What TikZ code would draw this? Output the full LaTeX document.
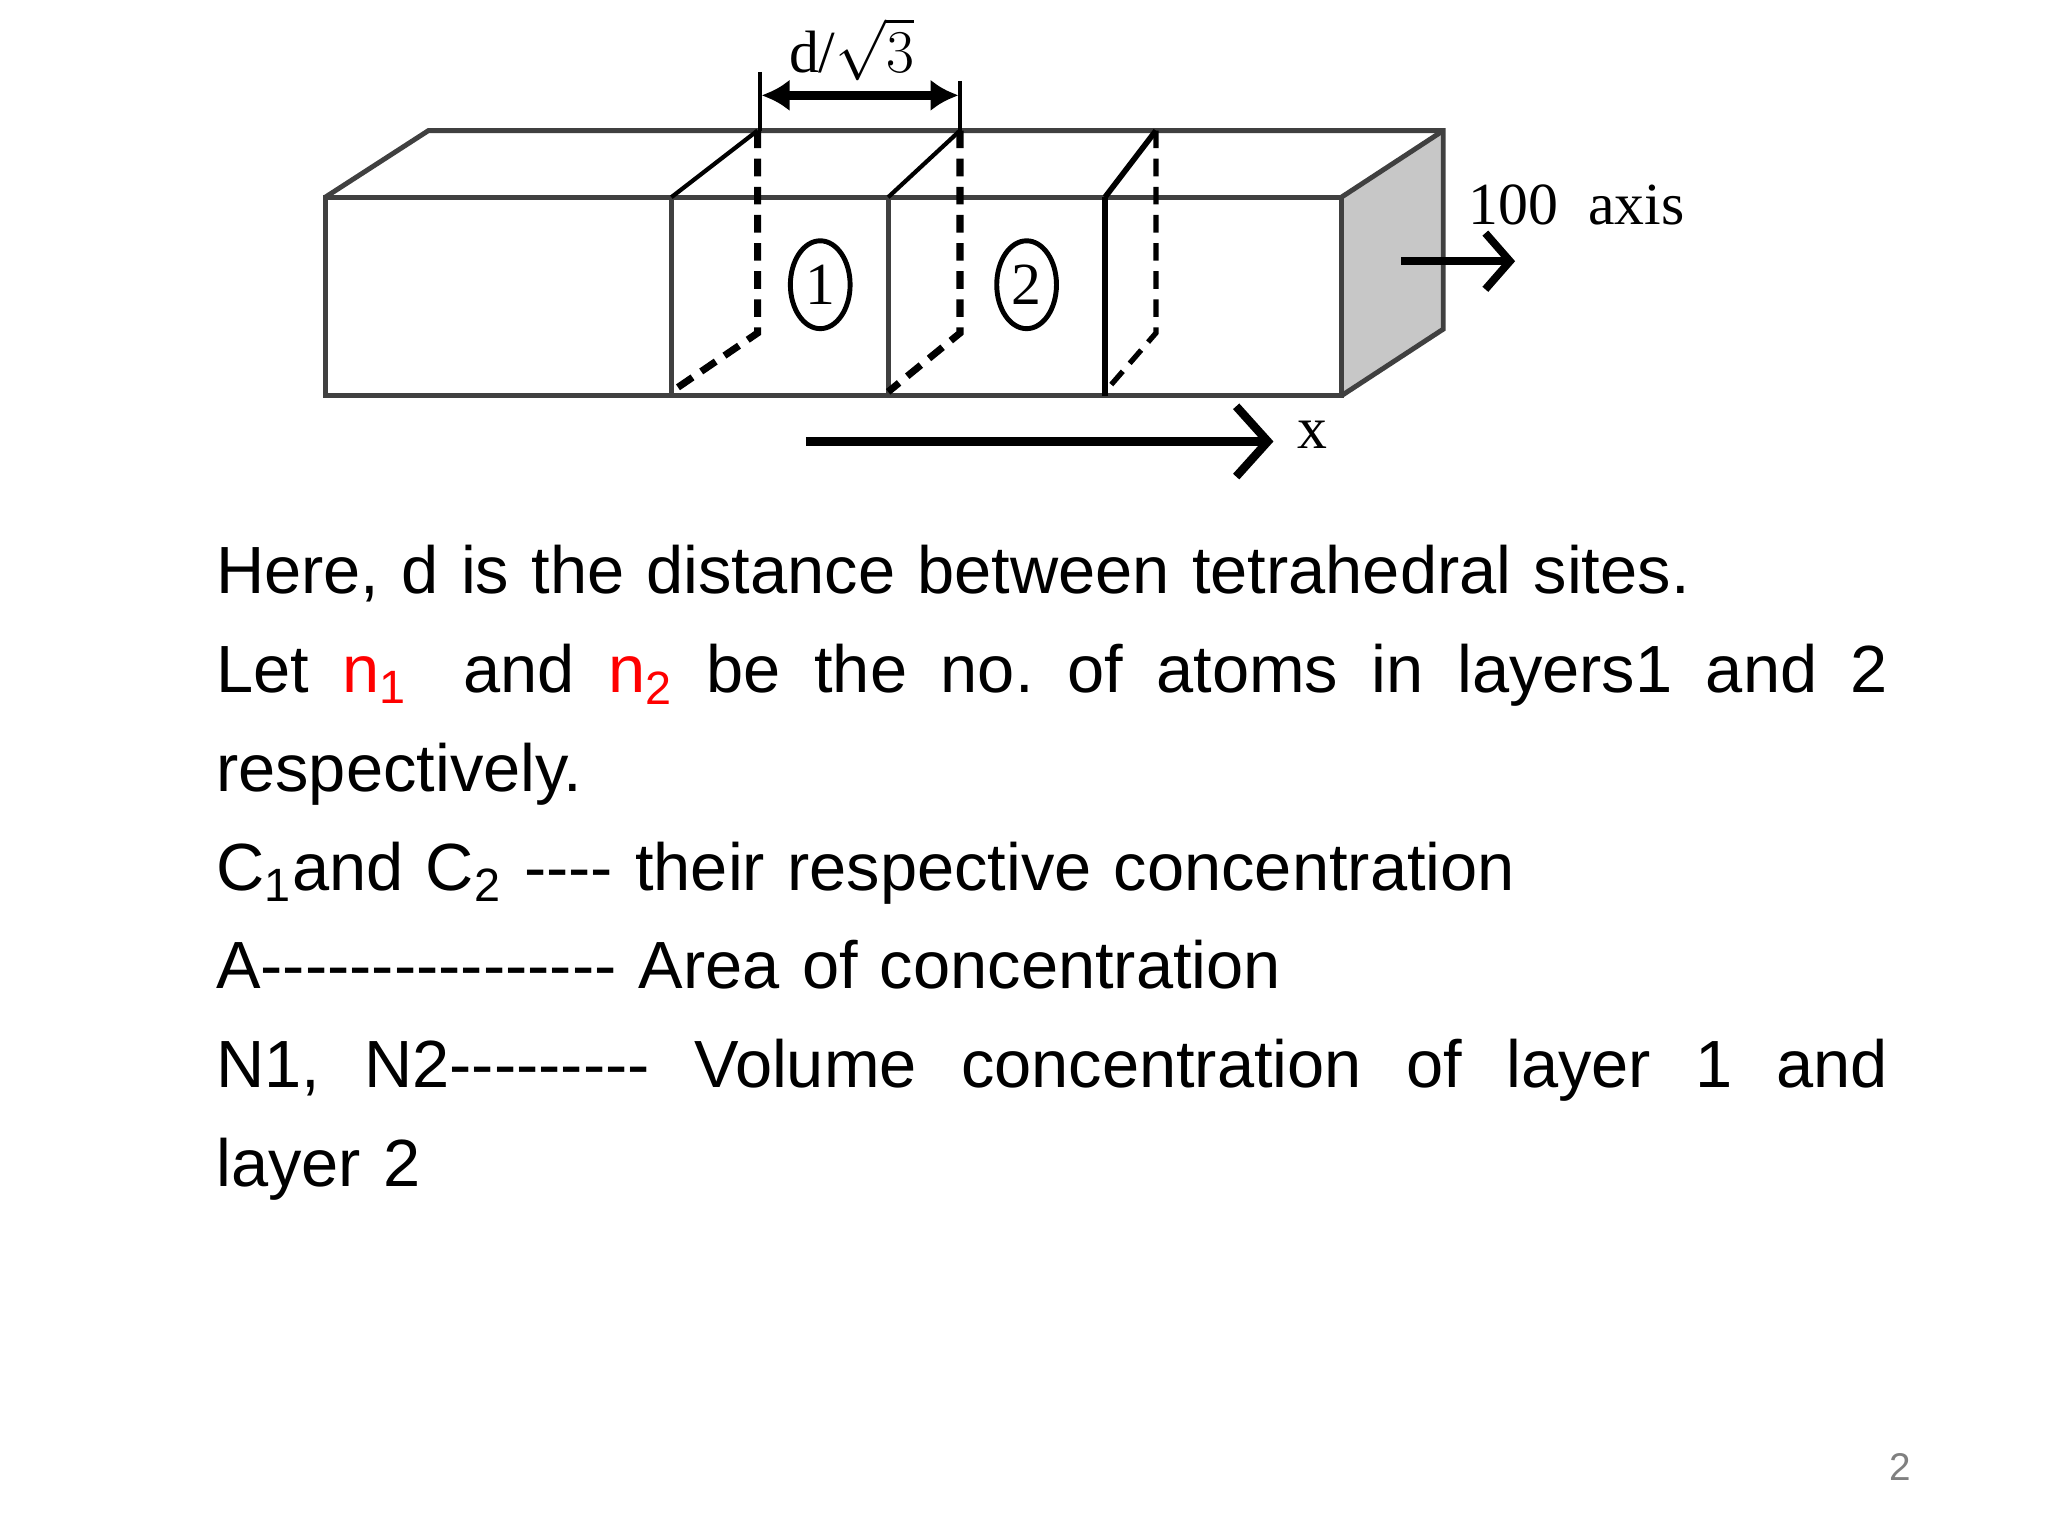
\documentclass[tikz,border=0pt]{standalone}
\usepackage{fontspec}
\usetikzlibrary{shapes.geometric,arrows.meta}
\setmainfont{Liberation Sans}
\newfontfamily\figfont{Liberation Serif}
\newcommand\gap{\hspace{0pt plus 1fil}}
\begin{document}
\begin{tikzpicture}[x=0.013061cm,y=-0.013061cm,
  edge/.style={line width=1.4pt,draw=black!75},
  hidden/.style={line width=2pt,dash pattern=on 5pt off 3pt},
  fig/.style={font=\figfont\fontsize{17}{17}\selectfont},
  layer/.style={fig,draw,ellipse,line width=1.4pt,inner sep=0pt,minimum width=17pt,minimum height=25pt},
  body/.style={font=\fontsize{19}{28.1}\selectfont,anchor=north west,inner sep=0pt}]
\useasboundingbox (0,0) rectangle (1568,1176);

% Block
\fill[black!22] (1027,151) -- (1105,100) -- (1105,252) -- (1027,303) -- cycle;
\draw[edge] (249,151) rectangle (1027,303);
\draw[edge] (249,151) -- (328,100) -- (1105,100) -- (1105,252) -- (1027,303);
\draw[edge] (1027,151) -- (1105,100);

% Layers
\draw[edge] (514,151) -- (514,303);
\draw[edge] (680,151) -- (680,303);
\draw[line width=1.6pt] (846,151) -- (846,303);
\draw[line width=1.2pt] (514,151) -- (580,100);
\draw[line width=1.2pt] (680,151) -- (735,100);
\draw[line width=1.6pt] (846,151) -- (885,100);
\draw[hidden] (580,100) -- (580,255) -- (514,300);
\draw[hidden] (735,100) -- (735,255) -- (680,300);
\draw[hidden,line width=1.5pt] (885,100) -- (885,255) -- (846,300);

% Spacing
\draw[line width=1pt] (582,55) -- (582,100);
\draw[line width=1pt] (735,62) -- (735,100);
\draw[line width=2.5pt,{Latex[length=8pt,width=9pt]}-{Latex[length=8pt,width=9pt]}] (583,73) -- (734,73);
\node[fig] (dist) at (652,38) {d/$\sqrt{3}$};

% Layer labels
\node[layer] (one) at (628,218) {1};
\node[layer] (two) at (786,218) {2};

% Axes
\node[fig,anchor=west] (axis) at (1115,157) {100\ \ axis};
\coordinate (a0) at (1073,200);
\coordinate (a1) at (1160,200);
\draw[line width=2.2pt,-{Straight Barb[length=7pt,width=16pt]}] (a0) -- (a1);
\coordinate (x0) at (617,338);
\coordinate (x1) at (975,338);
\draw[line width=2.4pt,-{Straight Barb[length=9pt,width=20pt]}] (x0) -- (x1);
\node[fig,anchor=west] (xlab) at (984,333) {x};

% Text
\node[body,text width=16.72cm] (notes) at (165,417) {%
Here, d is the distance between tetrahedral sites.\\
\leavevmode\hbox to 16.72cm{Let\gap\textcolor{red}{n\textsubscript{1}}\ \gap and\gap\textcolor{red}{n\textsubscript{2}}\gap be\gap the\gap no.\gap of\gap atoms\gap in\gap layers1\gap and\gap 2}\\
respectively.\\
C\textsubscript{1}and C\textsubscript{2} -{}-{}-{}- their respective concentration\\
A-{}-{}-{}-{}-{}-{}-{}-{}-{}-{}-{}-{}-{}-{}-{}- Area of concentration\\
\leavevmode\hbox to 16.72cm{N1,\gap N2-{}-{}-{}-{}-{}-{}-{}-{}-\gap Volume\gap concentration\gap of\gap layer\gap 1\gap and}\\
layer 2};
\node[text=black!50,font=\fontsize{11}{11}\selectfont] (page) at (1455,1123) {2};
\end{tikzpicture}
\end{document}
